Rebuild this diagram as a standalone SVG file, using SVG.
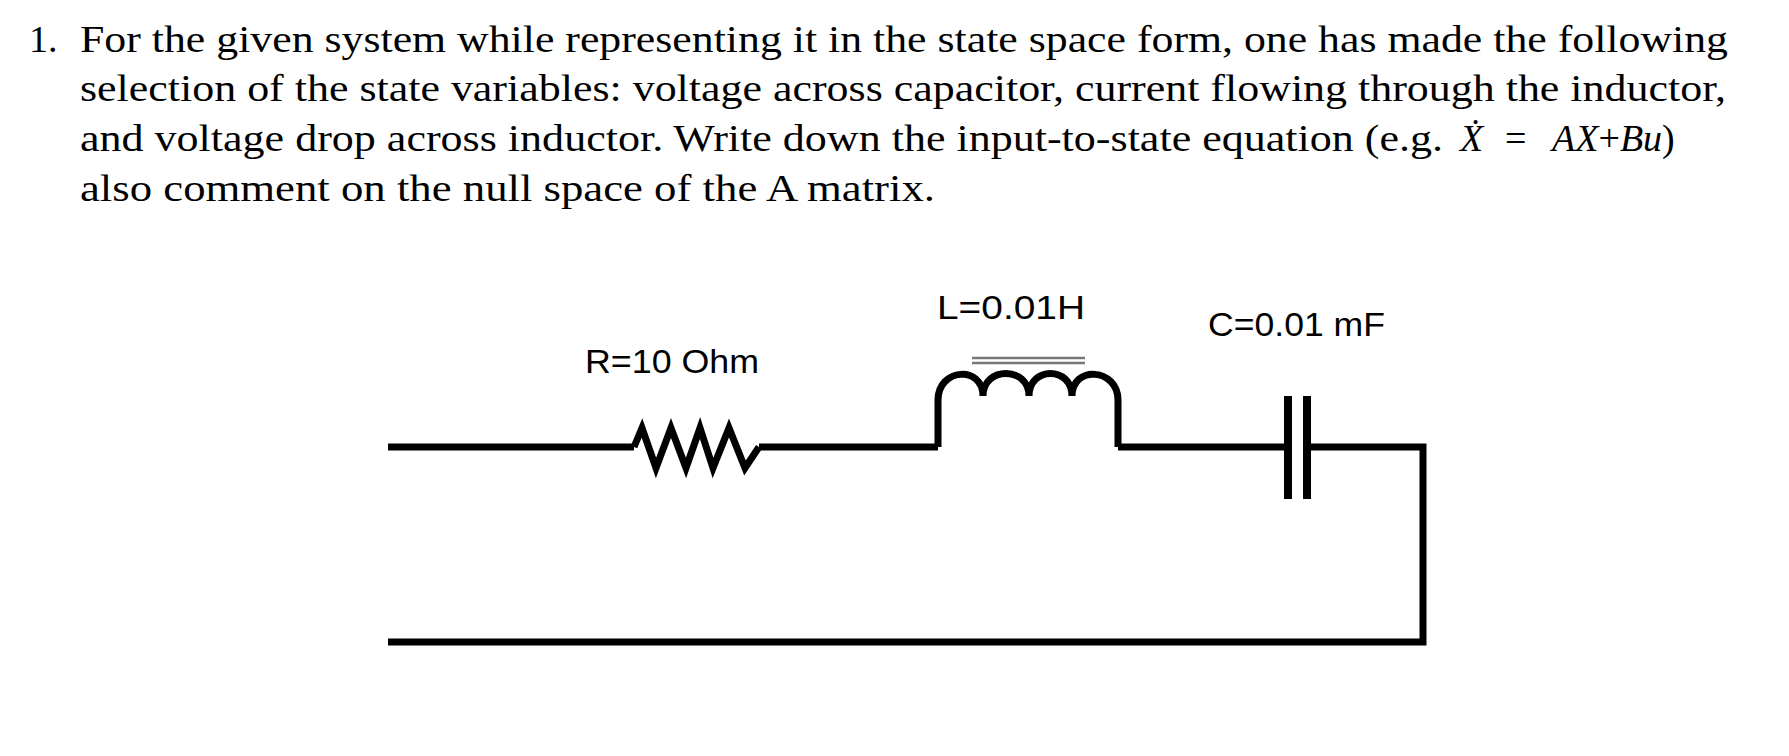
<svg xmlns="http://www.w3.org/2000/svg" width="1789" height="756" viewBox="0 0 1789 756">
<style>
.t{font-family:"Liberation Serif","DejaVu Serif",serif;font-size:38px;fill:#000}
.m{font-style:italic}
.l{font-family:"Liberation Sans",Arial,sans-serif;font-size:33px;fill:#000}
.w{fill:none;stroke:#000;stroke-width:7;stroke-linejoin:miter}
</style>
<rect width="1789" height="756" fill="#fff"/>
<g id="question">
<text class="t" x="29" y="52">1.</text>
<text class="t" x="80" y="52" textLength="1648" lengthAdjust="spacingAndGlyphs">For the given system while representing it in the state space form, one has made the following</text>
<text class="t" x="80" y="101" textLength="1646" lengthAdjust="spacingAndGlyphs">selection of the state variables: voltage across capacitor, current flowing through the inductor,</text>
<text class="t" x="80" y="151" textLength="1363" lengthAdjust="spacingAndGlyphs">and voltage drop across inductor. Write down the input-to-state equation (e.g.</text>
<text class="t m" x="1460" y="151">X&#x307;</text>
<text class="t" x="1505" y="151">=</text>
<text class="t" x="1552" y="151"><tspan class="m">AX</tspan>+<tspan class="m">Bu</tspan>)</text>
<text class="t" x="80" y="201" textLength="855" lengthAdjust="spacingAndGlyphs">also comment on the null space of the A matrix.</text>
</g>
<g id="connectors">
<path class="w" d="M388,447 H634"/>
<path class="w" d="M759,447 H938"/>
<path class="w" d="M1118,447 H1288"/>
<path class="w" d="M1307,447 H1423 V642 H388"/>
</g>
<g id="resistor">
<path class="w" d="M634,447 L642,428 L656,468 L671,428 L686,468 L700,428 L713,468 L729,428 L745,468 L759,447"/>
<text class="l" x="585" y="373" textLength="174" lengthAdjust="spacingAndGlyphs">R=10 Ohm</text>
</g>
<g id="inductor">
<path class="w" d="M938,447 V400 C938,368 983,365 983,396 C983,366 1029,366 1029,396 C1029,366 1072,366 1072,396 C1072,365 1118,368 1118,400 V447"/>
<path d="M972,358 H1085 M972,363 H1085" stroke="#777" stroke-width="2.5" fill="none"/>
<text class="l" x="937" y="319" textLength="148" lengthAdjust="spacingAndGlyphs">L=0.01H</text>
</g>
<g id="capacitor">
<path d="M1288,396 V499 M1307,396 V499" stroke="#000" stroke-width="8" fill="none"/>
<text class="l" x="1208" y="336" textLength="177" lengthAdjust="spacingAndGlyphs">C=0.01 mF</text>
</g>
</svg>
